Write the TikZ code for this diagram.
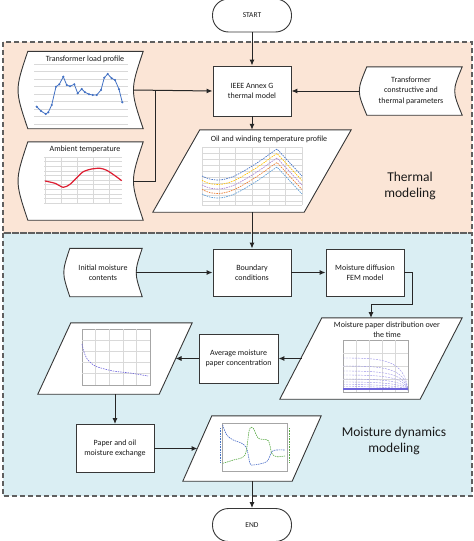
\documentclass[tikz,border=0pt]{standalone}
\usepackage{fontspec}
\setmainfont{Carlito}
\usetikzlibrary{arrows.meta,calc}
\pgfdeclarelayer{background}
\pgfsetlayers{background,main}
\definecolor{thermfill}{RGB}{251,229,214}
\definecolor{moistfill}{RGB}{218,238,243}
\definecolor{edgecol}{RGB}{55,55,55}
\definecolor{regionedge}{RGB}{95,95,95}
\definecolor{cblue}{RGB}{68,114,196}
\definecolor{cred}{RGB}{222,30,50}
\definecolor{cgold}{RGB}{255,192,0}
\definecolor{cviolet}{RGB}{170,130,210}
\definecolor{corange}{RGB}{237,125,49}
\definecolor{clblue}{RGB}{91,155,213}
\definecolor{cpurple}{RGB}{110,100,220}
\definecolor{cgreen}{RGB}{90,170,70}
\begin{document}
\begin{tikzpicture}[x=1pt,y=-1pt,
 shapeline/.style={draw=edgecol, line width=0.9pt, fill=white},
 box/.style={draw=edgecol, line width=0.9pt, fill=white, align=center, font=\fontsize{8}{10.5}\selectfont, inner sep=0pt, text=black!90},
 ghost/.style={inner sep=0pt},
 txt/.style={align=center, font=\fontsize{8}{10.5}\selectfont, inner sep=0pt, text=black!90},
 term/.style={draw=edgecol, line width=0.9pt, fill=white, rounded corners=16pt, minimum width=79pt, minimum height=33pt, font=\fontsize{7.5}{9}\selectfont, inner sep=0pt, text=black!90},
 conn/.style={draw=black!85, line width=1pt, -{Latex[length=6pt,width=5pt]}},
 plain/.style={draw=black!85, line width=1pt},
 region/.style={draw=regionedge, line width=1.3pt, dash pattern=on 5pt off 3pt},
 gridl/.style={draw=black!15, line width=0.3pt},
 frame/.style={draw=black!35, line width=0.4pt},
 titletxt/.style={align=center, font=\fontsize{13.5}{15.5}\selectfont, text=black!90},
]
\useasboundingbox (0,0) rectangle (474,541);

% ---- regions ----
\begin{pgfonlayer}{background}
\fill[thermfill] (3,42) rectangle (472,233);
\fill[moistfill] (3,233) rectangle (472,496);
\draw[region] (3,42) rectangle (472,233);
\draw[region] (3,233) rectangle (472,496);
\end{pgfonlayer}

% ---- nodes ----
\node[term] (start) at (252,15.5) {START};
\node[term] (end) at (252,525) {END};
\node[box, minimum width=78pt, minimum height=50pt] (ieee) at (252,91) {IEEE Annex G\\thermal model};

\node[ghost, minimum width=115pt, minimum height=77pt] (load) at (85.5,90) {};
\node[txt] (loadt) at (85,59) {Transformer load profile};
\node[ghost, minimum width=115pt, minimum height=78pt] (amb) at (85.5,181) {};
\node[txt] (ambt) at (85,149) {Ambient temperature};
\node[ghost, minimum width=95pt, minimum height=48pt] (par) at (414.5,91) {};
\node[txt] (part) at (411,90.5) {Transformer\\constructive and\\thermal parameters};

\node[ghost, minimum width=198pt, minimum height=82pt] (oil) at (252,171) {};
\node[txt] (oilt) at (269,139.5) {Oil and winding temperature profile};

\node[ghost, minimum width=72pt, minimum height=48pt] (init) at (106,272.5) {};
\node[txt] (initt) at (103,272.5) {Initial moisture\\contents};
\node[box, minimum width=78pt, minimum height=47pt] (bc) at (252,272.5) {Boundary\\conditions};
\node[box, minimum width=78pt, minimum height=47pt] (fem) at (365,272.5) {Moisture diffusion\\FEM model};

\node[ghost, minimum width=182pt, minimum height=81pt] (mpd) at (371,358.5) {};
\node[txt] (mpdt) at (387,329.5) {Moisture paper distribution over\\the time};
\node[box, minimum width=79pt, minimum height=49pt] (avg) at (238.5,358.5) {Average moisture\\paper concentration};
\node[ghost, minimum width=154pt, minimum height=71pt] (avgp) at (115,358.5) {};
\node[box, minimum width=78pt, minimum height=48pt] (poe) at (115,448.5) {Paper and oil\\moisture exchange};
\node[ghost, minimum width=138pt, minimum height=65pt] (exg) at (252,448.5) {};

\node[titletxt] (thermlab) at (410,186) {Thermal\\modeling};
\node[titletxt] (moistlab) at (394,441) {Moisture dynamics\\modeling};

% ---- shape outlines ----
\begin{pgfonlayer}{background}
\draw[shapeline] (load.north west) .. controls ($(load.west)+(-13,0)$) .. (load.south west) -- (load.south east) .. controls ($(load.east)+(-13,0)$) .. (load.north east) -- cycle;
\draw[shapeline] (amb.north west) .. controls ($(amb.west)+(-13,0)$) .. (amb.south west) -- (amb.south east) .. controls ($(amb.east)+(-13,0)$) .. (amb.north east) -- cycle;
\draw[shapeline] (par.north west) .. controls ($(par.west)+(-10,0)$) .. (par.south west) -- (par.south east) .. controls ($(par.east)+(-10,0)$) .. (par.north east) -- cycle;
\draw[shapeline] (init.north west) .. controls ($(init.west)+(-8,0)$) .. (init.south west) -- (init.south east) .. controls ($(init.east)+(-8,0)$) .. (init.north east) -- cycle;
\draw[shapeline] ($(oil.north west)+(47,0)$) -- (oil.north east) -- ($(oil.south east)+(-47,0)$) -- (oil.south west) -- cycle;
\draw[shapeline] ($(mpd.north west)+(42,0)$) -- (mpd.north east) -- ($(mpd.south east)+(-42,0)$) -- (mpd.south west) -- cycle;
\draw[shapeline] ($(avgp.north west)+(33,0)$) -- (avgp.north east) -- ($(avgp.south east)+(-33,0)$) -- (avgp.south west) -- cycle;
\draw[shapeline] ($(exg.north west)+(29,0)$) -- (exg.north east) -- ($(exg.south east)+(-29,0)$) -- (exg.south west) -- cycle;
\end{pgfonlayer}

% ---- connectors ----
\coordinate (jn) at (155,90);
\coordinate (fk) at (412,304);
\coordinate (mpdin) at (371,318);
\coordinate (mpdl) at (301.5,358.5);
\coordinate (avgpr) at (175.5,358.5);
\coordinate (exgl) at (197.5,448.5);
\draw[conn] (start.south) -- (ieee.north);
\draw[conn] ($(load.east)+(-10,0)$) -- (ieee.west);
\draw[plain] ($(amb.east)+(-10,0)$) -| (jn);
\draw[conn] ($(par.west)+(-7.5,0)$) -- (ieee.east);
\draw[conn] (ieee.south) -- (oil.north);
\draw[conn] (oil.south) -- (bc.north);
\draw[conn] ($(init.east)+(-6,0)$) -- (bc.west);
\draw[conn] (bc.east) -- (fem.west);
\draw[conn] (fem.east) -| (fk) -| (mpdin);
\draw[conn] (mpdl) -- (avg.east);
\draw[conn] (avg.west) -- (avgpr);
\draw[conn] (avgp.south) -- (poe.north);
\draw[conn] (poe.east) -- (exgl);
\draw[conn] (exg.south) -- (end.north);

% ---- chart: load profile ----
\foreach \yy in {64,71.5,79,86.5,94,101.5,109,116.5,124} {\draw[gridl] (34,\yy) -- (128,\yy);}
\draw[cblue, line width=0.8pt, mark=*, mark size=0.6pt] plot coordinates {(36.7,106.7) (41,111) (45.7,114) (48.3,112.3) (51.7,105) (56,86.7) (59.3,84.3) (63.3,76.7) (66.7,85) (70,86.3) (74.3,84.3) (77.7,93.3) (81.7,89) (85,92.3) (89,94.3) (92.7,95) (96.7,95) (101,90) (104.3,77.7) (107.7,74) (111.7,78.3) (115,80) (119,89.3) (122.3,102.3)};

% ---- chart: ambient ----
\foreach \yy in {157,161.6,166.2,170.8,175.4,180,184.6,189.2,193.8,198.4,203} {\draw[gridl] (44,\yy) -- (122,\yy);}
\foreach \xx in {45,60.7,76.7,92.7,109.3} {\draw[gridl] (\xx,157) -- (\xx,203);}
\draw[cred, line width=1.2pt] plot[smooth] coordinates {(45,181) (55,183.3) (63.3,187.3) (70,184.3) (76.7,177.7) (83.3,171.7) (91.7,169) (100,168.3) (106.7,170.3) (115,175.7) (121.7,180.7)};

% ---- chart: oil and winding ----
\foreach \yy in {147,153,159,165,171,177,183,189,195,201,205} {\draw[gridl] (202,\yy) -- (302,\yy);}
\foreach \xx in {202,218.7,235.3,252,268.7,285.3,302} {\draw[gridl] (\xx,147) -- (\xx,205);}
\foreach \off/\col in {0/cblue,4.5/cgold,9/cviolet,13.5/corange,18/clblue} {
  \draw[\col, line width=0.7pt, dash pattern=on 1.5pt off 1pt] plot coordinates {(202,176+\off) (206,177.8+\off) (210,179.1+\off) (214,179.8+\off) (218,180+\off) (222,179.7+\off) (226,178.9+\off) (230,177.7+\off) (234,176.2+\off) (240,173.2+\off) (248,168.6+\off) (256,163.6+\off) (264,158.2+\off) (271,153+\off) (277,149+\off) (302,176+\off)};
}

% ---- chart: moisture distribution ----
\draw[frame, fill=white] (343,340) rectangle (408,392);
\foreach \xx in {356,369,382,395} {\draw[gridl] (\xx,340) -- (\xx,392);}
\foreach \yy in {353,366,379} {\draw[gridl] (343,\yy) -- (408,\yy);}
\foreach \h in {358,366,371,375,379,382,384.5,386.5} {
  \draw[cpurple!70, line width=0.4pt, dash pattern=on 2pt off 1pt] (343,\h) .. controls (385,\h) and (404,\h+2) .. (408,390);
}
\draw[cpurple, line width=1.6pt] (343,389) -- (408,389);

% ---- chart: average moisture ----
\draw[frame, fill=white] (82,329) rectangle (150,385);
\foreach \xx in {95.6,109.2,122.8,136.4} {\draw[gridl] (\xx,329) -- (\xx,385);}
\foreach \yy in {340,351,362,373} {\draw[gridl] (82,\yy) -- (150,\yy);}
\draw[cpurple, line width=0.6pt, dash pattern=on 1.5pt off 1pt] plot[smooth] coordinates {(82,344) (84,352) (86.7,358.3) (91,363) (96.7,366.7) (113,371) (130,373) (148,376)};

% ---- chart: exchange ----
\draw[frame, fill=white] (222,423) rectangle (287,471);
\draw[cblue!80!cpurple, line width=0.6pt, dash pattern=on 1.5pt off 0.8pt] plot[smooth] coordinates {(222.7,425) (226.7,435) (233.3,440) (241.7,443.3) (246.7,448.3) (250,463.3) (253.3,465) (266.7,461.7) (271.7,451.7) (276.7,450) (285,450)};
\draw[cgreen, line width=0.6pt, dash pattern=on 1.5pt off 0.8pt] plot[smooth] coordinates {(222.7,463.3) (233.3,460) (245,455) (249.3,430) (253.3,428.3) (258.3,438.3) (268.3,440.7) (271.7,453.3) (276.7,456.7) (285,456)};
\draw[cblue, line width=0.5pt, dash pattern=on 1pt off 0.6pt] (220.5,428) -- (220.5,462);
\draw[cgreen, line width=0.5pt, dash pattern=on 1pt off 0.6pt] (289,428) -- (289,462);
\end{tikzpicture}
\end{document}
